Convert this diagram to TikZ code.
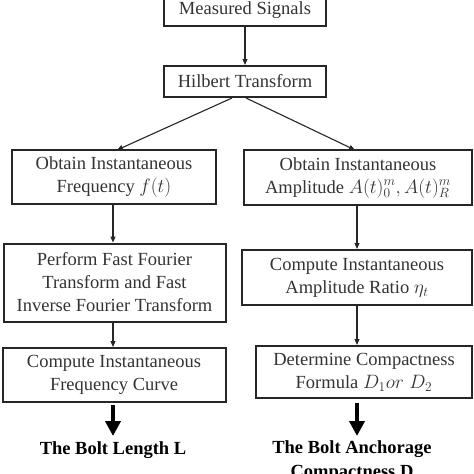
\documentclass[tikz,border=0pt]{standalone}
\usepackage{fontspec}
\setmainfont{Liberation Serif}
\usetikzlibrary{arrows.meta}
\newcommand\mymth[1]{\scalebox{1.12}{$#1$}}
\begin{document}
\begin{tikzpicture}[x=1pt,y=-1pt,
  box/.style={draw=black!85,line width=2pt,align=center,font=\fontsize{18.5}{23}\selectfont,inner sep=0pt,text=black!80},
  thin/.style={draw=black!85,line width=1.1pt,-{Triangle[length=6pt,width=5pt]}},
  thick/.style={draw=black,line width=4pt,-{Triangle[length=15pt,width=15pt]}},
  result/.style={font=\bfseries\fontsize{18.5}{24}\selectfont,align=center,inner sep=0pt}]
\useasboundingbox (0,0) rectangle (474,474);
\node[box,minimum width=162pt,minimum height=31pt] (ms) at (245,10.5) {Measured Signals};
\node[box,minimum width=162pt,minimum height=31pt] (ht) at (245,81.5) {Hilbert Transform};
\node[box,minimum width=204pt,minimum height=54pt] (l1) at (114,177) {Obtain Instantaneous\\Frequency \mymth{f(t)}};
\node[box,minimum width=228pt,minimum height=55pt] (r1) at (358,177.5) {Obtain Instantaneous\\Amplitude \mymth{A(t)_0^m, A(t)_R^m}};
\node[box,minimum width=222pt,minimum height=78pt] (l2) at (114.5,282.5) {Perform Fast Fourier\\Transform and Fast\\Inverse Fourier Transform};
\node[box,minimum width=230pt,minimum height=55pt] (r2) at (357,277.5) {Compute Instantaneous\\Amplitude Ratio \mymth{\eta_t}};
\node[box,minimum width=216pt,minimum height=52pt] (r3) at (364,372) {Determine Compactness\\Formula \mymth{D_1 or\; D_2}};
\node[box,minimum width=223pt,minimum height=54pt] (l3) at (114,375) {Compute Instantaneous\\Frequency Curve};
\node[result] (lr) at (113,450) {The Bolt Length L};
\node[result,anchor=north] (rr) at (352,440) {The Bolt Anchorage\\Compactness D};
\coordinate (lt) at (117,150);
\coordinate (rt) at (355,150);
\coordinate (la) at (113,436);
\coordinate (ra) at (357,436);
\draw[thin] (ms.south) -- (ht.north);
\draw[thin] ([xshift=-13pt]ht.south) -- (lt);
\draw[thin] ([xshift=1pt]ht.south) -- (rt);
\draw[thin] (l1.south -| 113,0) -- (l2.north -| 113,0);
\draw[thin] (r1.south -| 357,0) -- (r2.north -| 357,0);
\draw[thin] (l2.south -| 113,0) -- (l3.north -| 113,0);
\draw[thin] (r2.south -| 357,0) -- (r3.north -| 357,0);
\draw[thick] ([yshift=-2pt]l3.south -| 113,0) -- (la);
\draw[thick] ([yshift=-4pt]r3.south -| 357,0) -- (ra);
\end{tikzpicture}
\end{document}
